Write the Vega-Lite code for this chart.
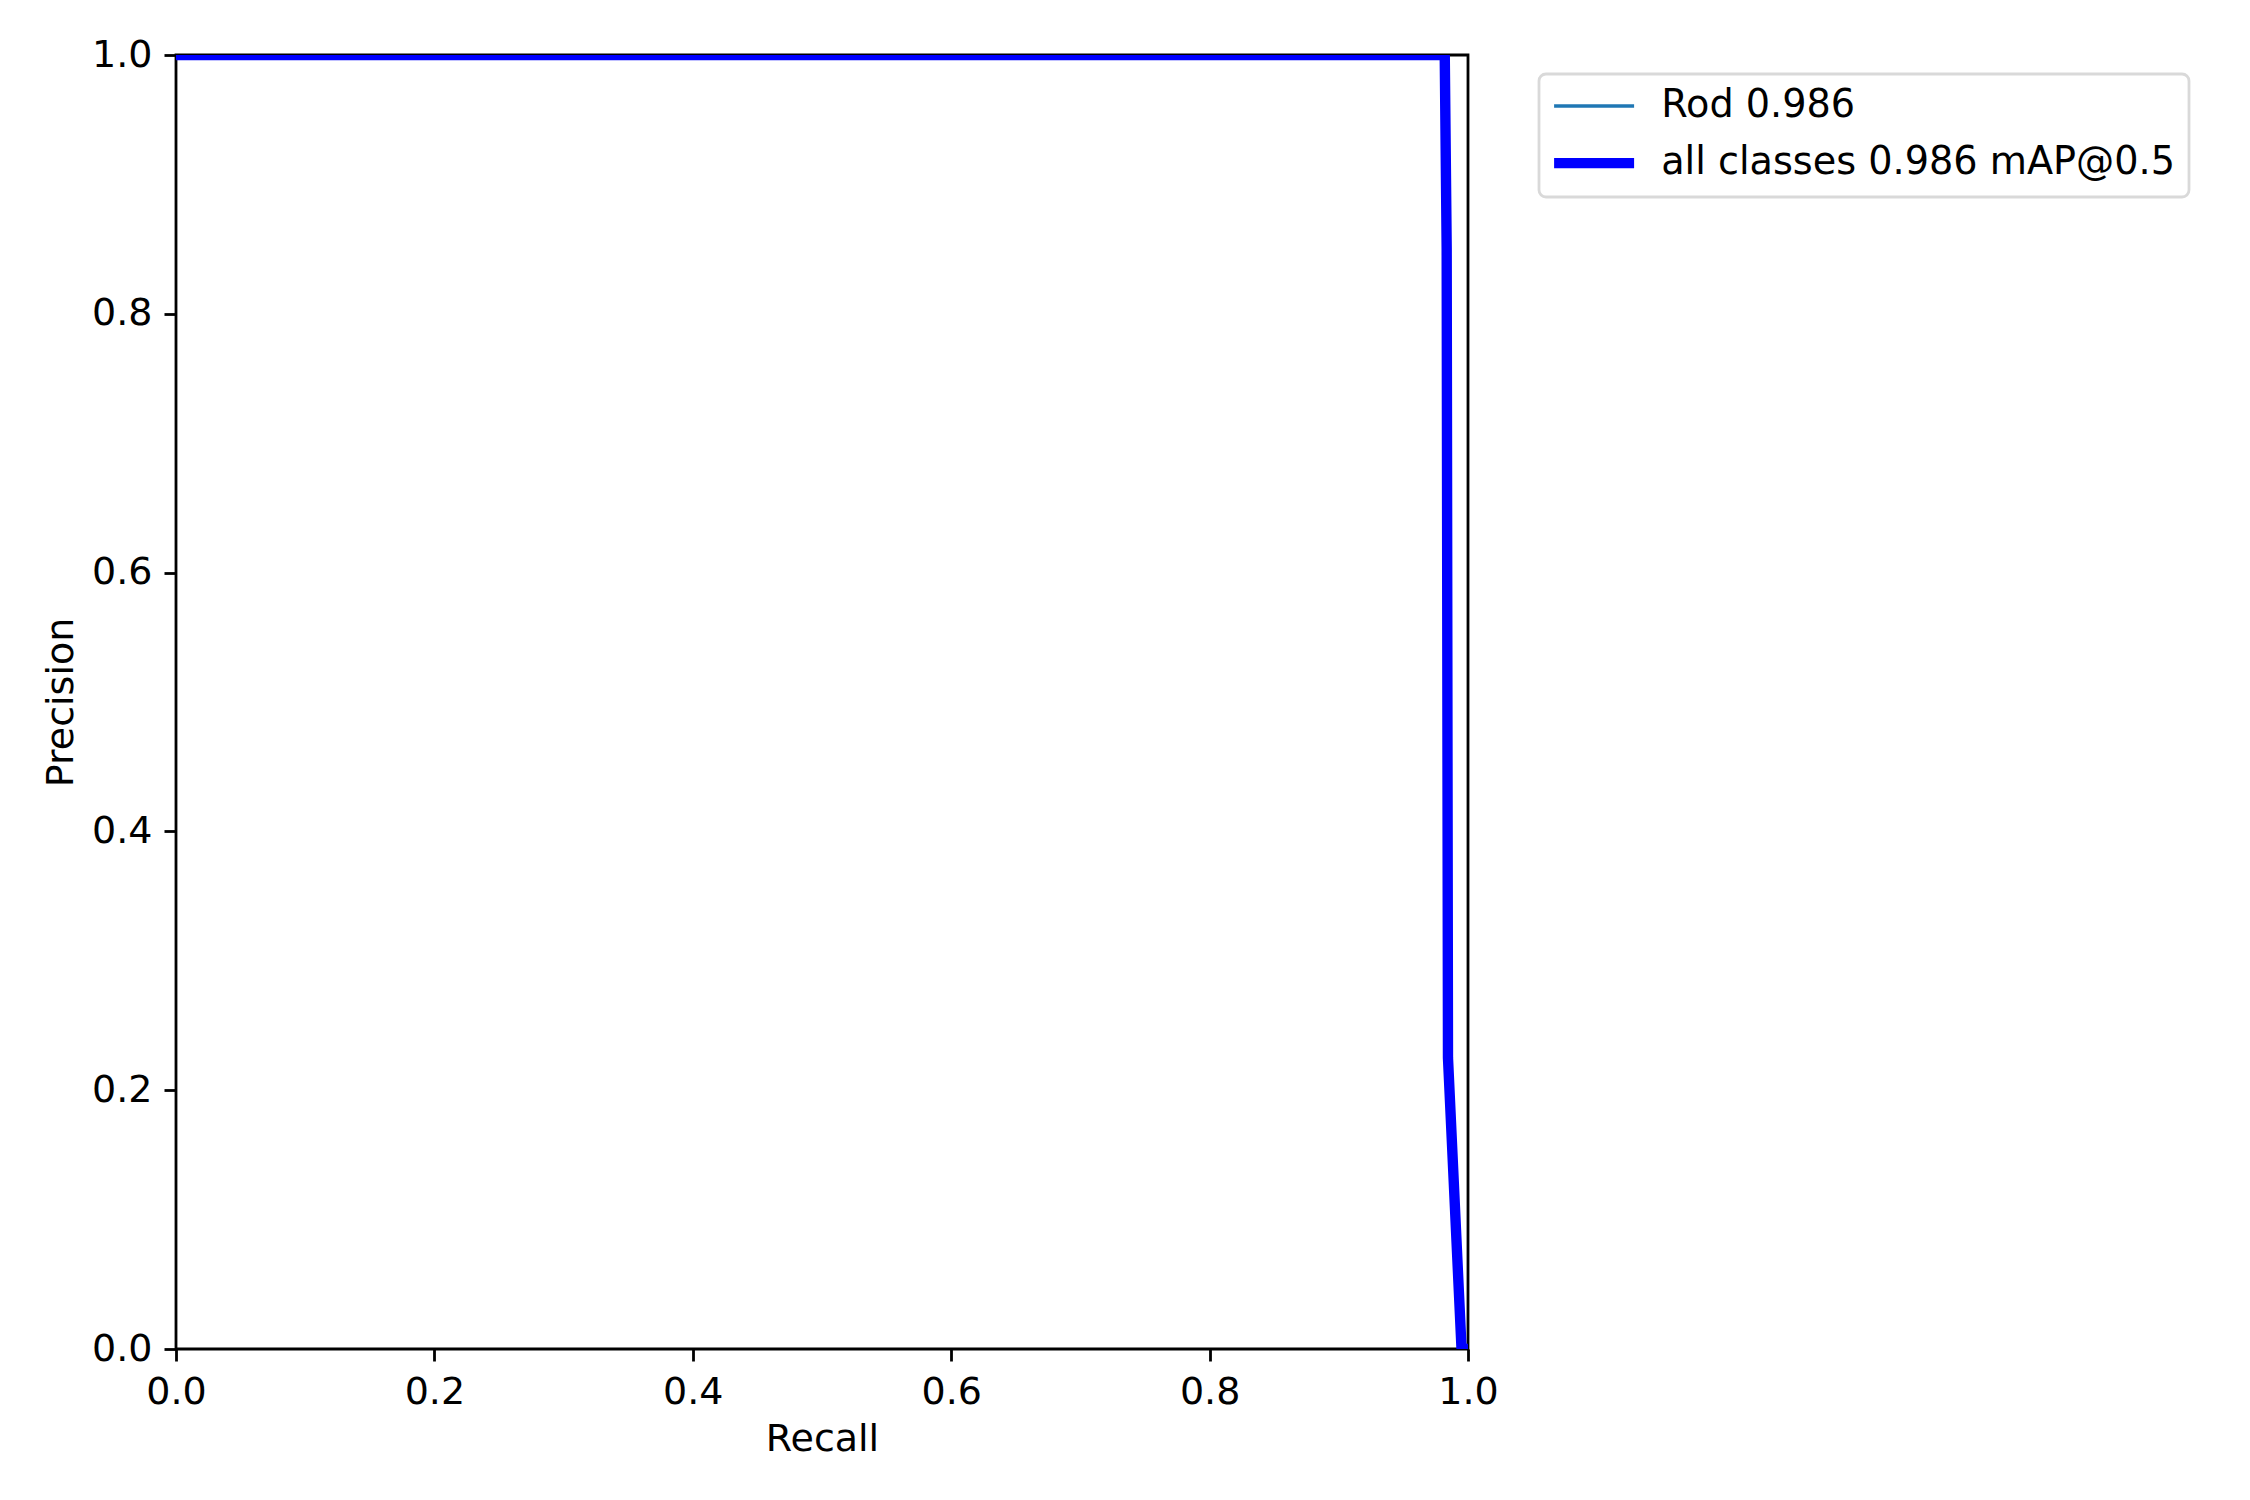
{
  "$schema": "https://vega.github.io/schema/vega-lite/v6.json",
  "background": "white",
  "autosize": {"type": "none"},
  "padding": {"left": 176, "top": 55, "right": 782, "bottom": 151},
  "width": 1292,
  "height": 1294,
  "config": {
    "font": "DejaVu Sans",
    "view": {"stroke": "black", "strokeWidth": 2.8},
    "axis": {
      "domain": false,
      "grid": false,
      "ticks": true,
      "tickColor": "black",
      "tickWidth": 2.8,
      "tickSize": 12,
      "labelFont": "DejaVu Sans",
      "labelFontSize": 38,
      "labelColor": "black",
      "labelPadding": 12,
      "labelFlush": false,
      "titleFont": "DejaVu Sans",
      "titleFontSize": 38,
      "titleFontWeight": "normal",
      "titleColor": "black"
    },
    "legend": {
      "strokeWidth": 2.8
    }
  },
  "data": {
    "values": [
      {"series": "Rod 0.986", "recall": 0.0, "precision": 1.0},
      {"series": "Rod 0.986", "recall": 0.982, "precision": 1.0},
      {"series": "Rod 0.986", "recall": 0.9835, "precision": 0.85},
      {"series": "Rod 0.986", "recall": 0.9845, "precision": 0.225},
      {"series": "Rod 0.986", "recall": 0.995, "precision": 0.0},
      {"series": "Rod 0.986", "recall": 1.0, "precision": 0.0},
      {"series": "all classes 0.986 mAP@0.5", "recall": 0.0, "precision": 1.0},
      {"series": "all classes 0.986 mAP@0.5", "recall": 0.982, "precision": 1.0},
      {"series": "all classes 0.986 mAP@0.5", "recall": 0.9835, "precision": 0.85},
      {"series": "all classes 0.986 mAP@0.5", "recall": 0.9845, "precision": 0.225},
      {"series": "all classes 0.986 mAP@0.5", "recall": 0.995, "precision": 0.0},
      {"series": "all classes 0.986 mAP@0.5", "recall": 1.0, "precision": 0.0}
    ]
  },
  "encoding": {
    "x": {
      "field": "recall",
      "type": "quantitative",
      "scale": {"domain": [0, 1], "nice": false, "zero": false},
      "axis": {"values": [0, 0.2, 0.4, 0.6, 0.8, 1.0], "format": ".1f", "title": "Recall", "titlePadding": 9}
    },
    "y": {
      "field": "precision",
      "type": "quantitative",
      "scale": {"domain": [0, 1], "nice": false, "zero": false},
      "axis": {"values": [0, 0.2, 0.4, 0.6, 0.8, 1.0], "format": ".1f", "title": "Precision", "titlePadding": 11}
    },
    "color": {
      "field": "series",
      "type": "nominal",
      "scale": {
        "domain": ["Rod 0.986", "all classes 0.986 mAP@0.5"],
        "range": ["#1f77b4", "#0000ff"]
      },
      "legend": {
        "title": null,
        "orient": "none",
        "legendX": 1363,
        "legendY": 19,
        "symbolType": "M-1.7,0H6.3",
        "symbolSize": 400,
        "labelFont": "DejaVu Sans",
        "labelFontSize": 38.2,
        "labelColor": "black",
        "labelOffset": 71,
        "labelLimit": 800,
        "rowPadding": 17,
        "padding": 13,
        "strokeColor": "#d9d9d9",
        "cornerRadius": 7,
        "fillColor": "white"
      }
    },
    "strokeWidth": {
      "field": "series",
      "type": "ordinal",
      "scale": {
        "domain": ["Rod 0.986", "all classes 0.986 mAP@0.5"],
        "range": [3.5, 10.4]
      },
      "legend": {
        "title": null,
        "orient": "none",
        "legendX": 1363,
        "legendY": 19,
        "symbolType": "M-1.7,0H6.3",
        "symbolSize": 400,
        "labelFont": "DejaVu Sans",
        "labelFontSize": 38.2,
        "labelColor": "black",
        "labelOffset": 71,
        "labelLimit": 800,
        "rowPadding": 17,
        "padding": 13,
        "strokeColor": "#d9d9d9",
        "cornerRadius": 7,
        "fillColor": "white"
      }
    }
  },
  "layer": [
    {
      "transform": [{"filter": "datum.series == 'Rod 0.986'"}],
      "mark": {"type": "line", "clip": true, "strokeJoin": "round", "strokeCap": "square"}
    },
    {
      "transform": [{"filter": "datum.series != 'Rod 0.986'"}],
      "mark": {"type": "line", "clip": true, "strokeJoin": "round", "strokeCap": "square"}
    }
  ]
}
